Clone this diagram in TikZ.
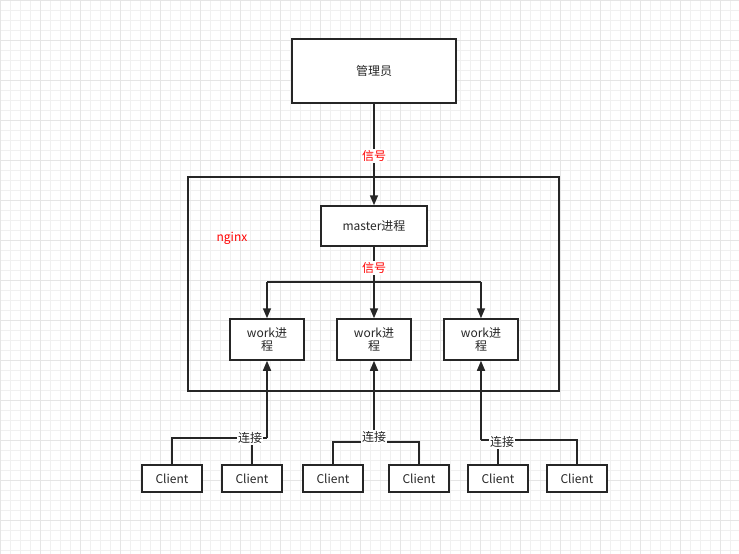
\documentclass[tikz,border=0pt]{standalone}
\usepackage{fontspec}
\setmainfont{Noto Sans CJK SC}
\usetikzlibrary{arrows.meta}
\begin{document}
\begin{tikzpicture}[x=1pt,y=-1pt,
  box/.style={draw=black!85,line width=1.5pt,fill=white,inner sep=0,font=\fontsize{12}{14}\selectfont,text=black!85,align=center},
  ln/.style={draw=black!85,line width=1.5pt},
  arr/.style={ln,-{Triangle[length=10pt,width=8pt]}},
  lab/.style={fill=white,inner sep=1pt,font=\fontsize{12}{14}\selectfont,text=black!85},
  red/.style={fill=white,inner sep=1pt,font=\fontsize{12}{14}\selectfont,text=red}]
\useasboundingbox (0,0) rectangle (739,554);
\fill[white] (0,0) rectangle (739,554);
\foreach \i in {0,10,...,730} \draw[black!6,line width=0.5pt] (\i,0) -- (\i,554);
\foreach \i in {0,10,...,550} \draw[black!6,line width=0.5pt] (0,\i) -- (739,\i);
\foreach \i in {0,40,...,730} \draw[black!10,line width=0.6pt] (\i,0) -- (\i,554);
\foreach \i in {0,40,...,550} \draw[black!10,line width=0.6pt] (0,\i) -- (739,\i);
\node[box,minimum width=164,minimum height=64] (adm) at (374,71) {管理员};
\node[draw=black!85,line width=1.5pt,minimum width=371,minimum height=214,inner sep=0] (ngx) at (373.5,284) {};
\node[red,fill=none] (nl) at (232,238) {nginx};
\node[box,minimum width=106,minimum height=40] (m) at (374,226) {master进程};
\node[box,minimum width=74,minimum height=41,font=\fontsize{12}{13}\selectfont] (w1) at (267,339.5) {work进\\程};
\node[box,minimum width=74,minimum height=41,font=\fontsize{12}{13}\selectfont] (w2) at (374,339.5) {work进\\程};
\node[box,minimum width=74,minimum height=41,font=\fontsize{12}{13}\selectfont] (w3) at (481,339.5) {work进\\程};
\foreach \n/\x in {c1/172,c2/252,c3/333,c4/419,c5/498,c6/577}
  \node[box,minimum width=60,minimum height=27] (\n) at (\x,478.5) {Client};
\draw[arr] (adm) -- (m);
\node[red] (s1) at (374,156) {信号};
\coordinate (b) at (374,282);
\coordinate (bl) at (267,282);
\coordinate (br) at (481,282);
\draw[ln] (m) -- (b) (bl) -- (br);
\draw[arr] (bl) -- (w1);
\draw[arr] (b) -- (w2);
\draw[arr] (br) -- (w3);
\node[red] (s2) at (374,268) {信号};
\coordinate (l1) at (172,438); \coordinate (l2) at (267,438); \coordinate (l3) at (252,438);
\draw[ln] (c1.north) -- (l1) -- (l2);
\draw[ln] (c2.north) -- (l3);
\draw[arr] (l2) -- (w1);
\node[lab] (k1) at (250,438) {连接};
\coordinate (m1) at (333,442); \coordinate (m2) at (419,442); \coordinate (m3) at (374,442);
\draw[ln] (c3.north) -- (m1) -- (m2) -- (c4.north);
\draw[arr] (m3) -- (w2);
\node[lab] (k2) at (374,437) {连接};
\coordinate (r1) at (481,440); \coordinate (r2) at (577,440); \coordinate (r3) at (498,440);
\draw[ln] (c5.north) -- (r3) -- (r1) (r3) -- (r2) -- (c6.north);
\draw[arr] (r1) -- (w3);
\node[lab] (k3) at (502,442) {连接};
\end{tikzpicture}
\end{document}
